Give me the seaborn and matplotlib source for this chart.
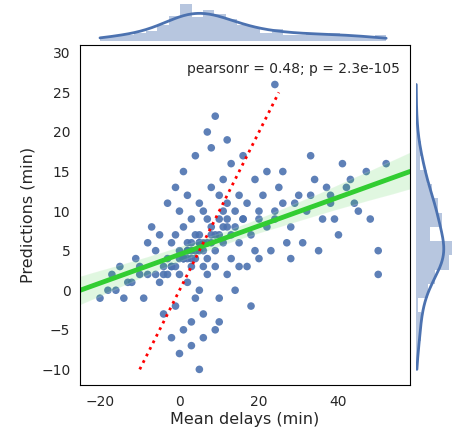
import matplotlib
matplotlib.use("Agg")
import matplotlib.pyplot as plt
import seaborn as sns
import pandas as pd

# estimated (mean delay, prediction) pairs
mean_delays = [0, 2, 5, -3, 8, 10, 12, -5, 3, 6, 1, 4, 7, -2, 9, 14, 15, -8, -1, 11,
               13, 16, 18, 20, 22, -6, -4, 0, 2, 5, 8, 10, 12, 17, 19, 21, 24, 26, 28, 30,
               -10, -12, -15, -9, -7, -3, -1, 1, 3, 6, 9, 11, 13, 15, 17, 19, 23, 25, 27, 32,
               34, 36, 38, 40, 42, 45, 47, 50, 50, 24, 8, 7, 12, 16, 4, 9, -2, 0, 3, 5,
               1, 6, 10, 14, 18, 2, 4, 6, 8, -5, -8, -11, -14, -16, -17, 3, 5, 7, 9, 11,
               13, 15, 20, 22, 26, 28, 31, 33, 35, 37, 39, 41, 44, 48, 2, 4, 0, -2, 1, 3,
               5, 7, 9, 11, -1, -3, 6, 10, 12, 14,
               -20, -18, -13, -10, -6, -4, -2, 0, 1, 2, 3, 4, 5, 6, 7, 8, 10, 12, 16, 20,
               24, 29, 33, 38, 43, 52, -1, 1, 3, -4, 2, 5]
predictions = [2, 5, 7, 4, 6, 9, 11, 1, 3, 10, 8, -1, 4, 6, 3, 8, 12, 2, -2, 6,
               4, 9, 7, 10, 8, 5, -3, 10, 12, 0, 13, -1, 2, 11, 5, 12, 9, 11, 8, 12,
               3, 1, 3, -1, 8, 11, 13, 15, -4, -3, -5, 14, 16, 6, 3, 14, 5, 13, 6, 10,
               14, 9, 11, 7, 13, 10, 15, 5, 2, 26, 18, 20, 19, 17, 17, 22, -6, -8, -7, -10,
               -5, -6, -4, 0, -2, 1, 4, 6, 8, 7, 6, 4, -1, 0, 2, 9, 11, 2, 7, 10,
               7, 3, 4, 15, 15, 4, 6, 17, 5, 13, 9, 16, 11, 9, 6, 7, 5, 3, 4, 6,
               5, 9, 5, 8, 7, 2, 3, 12, 9, 10,
               -1, 0, 1, 2, 2, 3, 3, 4, 4, 5, 4, 5, 6, 5, 6, 7, 7, 8, 9, 9,
               10, 11, 12, 12, 14, 16, 3, 4, 5, 2, 4, 6]
pearson_text = "pearsonr = 0.48; p = 2.3e-105"
identity_x = [-10, 25]

df = pd.DataFrame({"Mean delays (min)": mean_delays, "Predictions (min)": predictions})

sns.set_style("white")
blue = "#4c72b0"
g = sns.JointGrid(data=df, x="Mean delays (min)", y="Predictions (min)", height=4.28)
g.figure.set_size_inches(4.74, 4.28)
g.ax_joint.set_xlim(-25, 58)
g.ax_joint.set_ylim(-12, 31)
sns.regplot(data=df, x="Mean delays (min)", y="Predictions (min)", ax=g.ax_joint,
            color=blue, scatter_kws={"s": 30, "alpha": 0.9, "edgecolor": "none"},
            line_kws={"color": "#32cd32", "lw": 3.5}, truncate=False)
g.ax_joint.plot(identity_x, identity_x, color="red", ls=":", lw=2)
sns.histplot(x=df["Mean delays (min)"], ax=g.ax_marg_x, stat="density", kde=True, bins=25,
             color=blue, alpha=0.4, edgecolor="none", line_kws={"lw": 2})
sns.histplot(y=df["Predictions (min)"], ax=g.ax_marg_y, stat="density", kde=True, bins=20,
             color=blue, alpha=0.4, edgecolor="none", line_kws={"lw": 2})
g.ax_joint.set_xlim(-25, 58)
g.ax_joint.set_ylim(-12, 31)
g.ax_joint.set_xticks([-20, 0, 20, 40])
g.ax_joint.set_yticks(range(-10, 31, 5))
g.ax_joint.tick_params(labelsize=10)
g.ax_joint.set_xlabel("Mean delays (min)", fontsize=11.5, labelpad=2)
g.ax_joint.set_ylabel("Predictions (min)", fontsize=11.5)
g.ax_joint.text(0.97, 0.95, pearson_text, transform=g.ax_joint.transAxes,
                ha="right", va="top", fontsize=10)
for sp in g.ax_joint.spines.values():
    sp.set_visible(True)
    sp.set_color("black")
for ax in (g.ax_marg_x, g.ax_marg_y):
    for sp in ax.spines.values():
        sp.set_visible(False)

g.ax_joint.set_position([0.169, 0.10, 0.696, 0.795])
g.ax_marg_x.set_position([0.169, 0.905, 0.696, 0.09])
g.ax_marg_y.set_position([0.877, 0.10, 0.08, 0.795])
g.figure.savefig("out.png", dpi=100)
